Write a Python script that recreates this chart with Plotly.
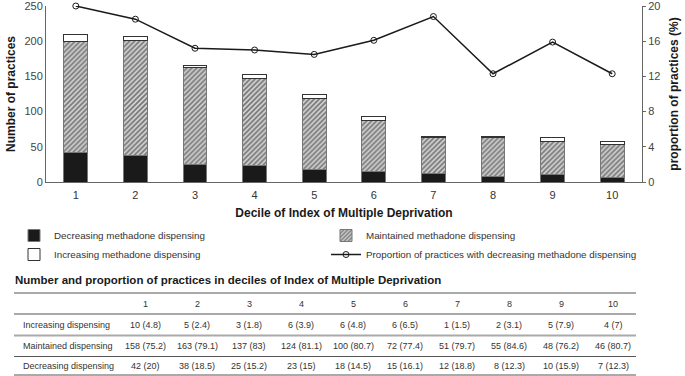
import plotly.graph_objects as go

deciles = [1, 2, 3, 4, 5, 6, 7, 8, 9, 10]
decreasing = [42, 38, 25, 23, 18, 15, 12, 8, 10, 7]
maintained = [158, 163, 137, 124, 100, 72, 51, 55, 48, 46]
increasing = [10, 5, 3, 6, 6, 6, 1, 2, 5, 4]
pct_decreasing = [20, 18.5, 15.2, 15, 14.5, 16.1, 18.8, 12.3, 15.9, 12.3]
pct_maintained = [75.2, 79.1, 83, 81.1, 80.7, 77.4, 79.7, 84.6, 76.2, 80.7]
pct_increasing = [4.8, 2.4, 1.8, 3.9, 4.8, 6.5, 1.5, 3.1, 7.9, 7]
row_labels = ["Increasing dispensing", "Maintained dispensing", "Decreasing dispensing"]

FONT = "Liberation Sans, Arial, sans-serif"
W, H = 685, 376
PL, PR, PT, PB = 46, 642, 6, 182


def px(x):
    return (x - PL) / (PR - PL)


def py(y):
    return (PB - y) / (PB - PT)


fig = go.Figure()
fig.add_trace(go.Bar(
    x=deciles, y=decreasing, name="Decreasing methadone dispensing",
    marker=dict(color="#1a1a1a", line=dict(color="#777", width=1)), width=0.4))
fig.add_trace(go.Bar(
    x=deciles, y=maintained, name="Maintained methadone dispensing",
    marker=dict(color="#d4d4d4", line=dict(color="#777", width=1),
                pattern=dict(shape="/", fgcolor="#1a1a1a", bgcolor="#d4d4d4",
                             size=3.5, solidity=0.5)), width=0.4))
fig.add_trace(go.Bar(
    x=deciles, y=increasing, name="Increasing methadone dispensing",
    marker=dict(color="white", line=dict(color="#333", width=1)), width=0.4))
fig.add_trace(go.Scatter(
    x=deciles, y=pct_decreasing, yaxis="y2", mode="lines+markers", cliponaxis=False,
    name="Proportion of practices with decreasing methadone dispensing",
    line=dict(color="#1a1a1a", width=1.5),
    marker=dict(symbol="circle-open", size=6, color="#1a1a1a", line=dict(width=1))))

annotations = []
shapes = []


def cell(x, y, text, anchor="center", size=9, color="#333"):
    return dict(x=px(x), y=py(y), xref="paper", yref="paper", xanchor=anchor,
                yanchor="middle", text=text, showarrow=False,
                font=dict(family=FONT, size=size, color=color))


# Table title
annotations.append(cell(13, 280,
                        "<b>Number and proportion of practices in deciles of Index of Multiple Deprivation</b>",
                        anchor="left", size=11.5, color="#1a1a1a"))

row_y = [303.5, 325, 346, 366]
line_y = [293, 314, 335.5, 356.5, 375]
col_x = [145 + 52 * i for i in range(10)]

for i, d in enumerate(deciles):
    annotations.append(cell(col_x[i], row_y[0], str(d)))

rows = [(increasing, pct_increasing), (maintained, pct_maintained), (decreasing, pct_decreasing)]
for r, (vals, pcts) in enumerate(rows):
    annotations.append(cell(21, row_y[r + 1], row_labels[r], anchor="left"))
    for i in range(10):
        annotations.append(cell(col_x[i], row_y[r + 1], f"{vals[i]} ({pcts[i]:g})"))

for k, ly in enumerate(line_y):
    color = "#aaaaaa" if k == 2 else "#555555"
    width = 2 if k == 2 else 1
    shapes.append(dict(type="line", xref="paper", yref="paper",
                       x0=px(14), x1=px(636), y0=py(ly), y1=py(ly),
                       line=dict(color=color, width=width)))

fig.update_layout(
    width=W, height=H,
    margin=dict(l=PL, r=W - PR, t=PT, b=H - PB, autoexpand=False),
    paper_bgcolor="white", plot_bgcolor="white",
    barmode="stack",
    font=dict(family=FONT, size=11, color="#333"),
    xaxis=dict(range=[0.5, 10.5], tickvals=deciles, ticktext=[str(d) for d in deciles],
               showline=True, linecolor="#666", linewidth=1, showgrid=False, zeroline=False,
               ticks="", tickfont=dict(size=11, color="#333"), automargin=False,
               ticklabelstandoff=3,
               title=dict(text="<b>Decile of Index of Multiple Deprivation</b>",
                          font=dict(size=12, color="#1a1a1a"), standoff=8)),
    yaxis=dict(range=[0, 250], dtick=50, showline=True, linecolor="#666", linewidth=1,
               showgrid=False, zeroline=False, ticks="", tickfont=dict(size=11, color="#444"),
               automargin=False, ticklabeloverflow="allow",
               title=dict(text="<b>Number of practices</b>", font=dict(size=12, color="#1a1a1a"),
                          standoff=6)),
    yaxis2=dict(range=[0, 20], dtick=4, overlaying="y", side="right", showline=True,
                linecolor="#666", linewidth=1, showgrid=False, zeroline=False,
                ticks="outside", ticklen=3, tickcolor="#666",
                tickfont=dict(size=11, color="#444"), automargin=False,
                ticklabeloverflow="allow",
                title=dict(text="<b>proportion of practices (%)</b>",
                           font=dict(size=12, color="#1a1a1a"), standoff=10)),
    legend=dict(orientation="h", x=px(14), y=py(221), xanchor="left", yanchor="top",
                entrywidth=267, traceorder="normal", tracegroupgap=0,
                font=dict(family=FONT, size=9.8, color="#333"), bgcolor="rgba(0,0,0,0)"),
    annotations=annotations,
    shapes=shapes,
)

fig.write_html("out.html", config={"displayModeBar": False},
               post_script="document.body.style.margin='0';document.body.style.overflow='hidden';")
